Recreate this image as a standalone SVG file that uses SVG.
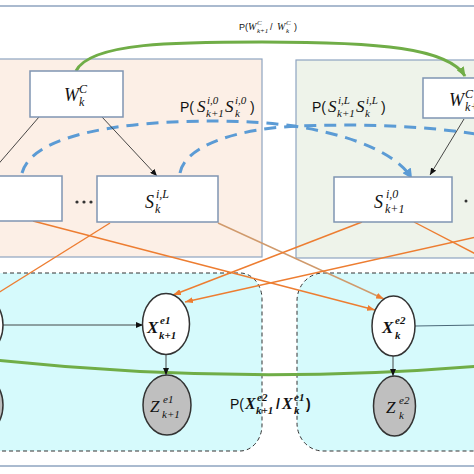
<svg xmlns="http://www.w3.org/2000/svg" width="474" height="474" viewBox="0 0 474 474">
<defs>
<style>
.panel{stroke:#8ea4c0;stroke-width:1.2}
.box{fill:#fff;stroke:#7f95b2;stroke-width:1.5}
.cyan{fill:#d6fafc;stroke:#333;stroke-width:1;stroke-dasharray:4,3}
.thin{fill:none;stroke:#333;stroke-width:0.9}
.org{fill:none;stroke:#ed7d31;stroke-width:1.4}
.grn{fill:none;stroke:#70ad47;stroke-width:3}
.blu{fill:none;stroke:#5b9bd5;stroke-width:3;stroke-dasharray:12,8}
.ell{fill:#fff;stroke:#333;stroke-width:1.5}
.ellg{fill:#bfbfbf;stroke:#333;stroke-width:1.5}
.m{font-family:"Liberation Serif",serif;font-style:italic;fill:#111}
.mb{font-family:"Liberation Serif",serif;font-style:italic;font-weight:bold;fill:#111}
.s{font-family:"Liberation Sans",sans-serif;fill:#111}
</style>
<marker id="ak" markerUnits="userSpaceOnUse" markerWidth="7" markerHeight="6" refX="7" refY="3" orient="auto"><path d="M0,0 L7,3 L0,6 z" fill="#111"/></marker>
<marker id="ao" markerUnits="userSpaceOnUse" markerWidth="8" markerHeight="6" refX="8" refY="3" orient="auto"><path d="M0,0 L8,3 L0,6 z" fill="#ed7d31"/></marker>
<marker id="ag" markerUnits="userSpaceOnUse" markerWidth="10" markerHeight="8" refX="9" refY="4" orient="auto"><path d="M0,0 L10,4 L0,8 z" fill="#70ad47"/></marker>
<marker id="ab" markerUnits="userSpaceOnUse" markerWidth="10" markerHeight="10" refX="8" refY="5" orient="auto"><path d="M0,0 L10,5 L0,10 z" fill="#5b9bd5"/></marker>
</defs>
<rect x="0" y="0" width="474" height="474" fill="#fff"/>
<g id="frame">
<rect x="-3" y="6" width="480" height="460" fill="#fff" stroke="#8ea4c0" stroke-width="1.5"/>
<rect class="panel" x="-20" y="59" width="282" height="198" fill="#fcefe6"/>
<rect class="panel" x="296" y="60" width="200" height="198" fill="#eef3ea"/>
<rect class="cyan" x="-40" y="273" width="302" height="178" rx="22" ry="26"/>
<rect class="cyan" x="297" y="273" width="220" height="178" rx="26" ry="28"/>
</g>
<g id="connectors">
<path class="grn" d="M76,71 C90,42 180,42 262,42 C380,42 448,48 465,76" marker-end="url(#ag)"/>
<path class="grn" d="M-5,360 Q237,386 479,366"/>
<path class="blu" d="M22,173 C35,125 170,118 250,122 C320,125 390,145 411,177" marker-end="url(#ab)"/>
<path class="blu" d="M180,173 C185,145 240,128 300,126 C380,123 450,127 520,142"/>
<line class="thin" x1="39" y1="117" x2="-5" y2="168"/>
<line class="thin" x1="102" y1="117" x2="157" y2="176" marker-end="url(#ak)"/>
<line class="thin" x1="464" y1="119" x2="430" y2="175" marker-end="url(#ak)"/>
<line class="thin" x1="3" y1="325" x2="143" y2="325" marker-end="url(#ak)"/>
<line class="thin" x1="166" y1="355" x2="166" y2="375" marker-end="url(#ak)"/>
<line class="thin" x1="393" y1="356" x2="393" y2="376" marker-end="url(#ak)"/>
<line x1="415" y1="326" x2="480" y2="325" stroke="#4a6878" stroke-width="1"/>
<line class="org" x1="33" y1="221" x2="375" y2="310" marker-end="url(#ao)"/>
<line class="org" x1="110" y1="223" x2="-10" y2="298"/>
<line x1="218" y1="223" x2="384" y2="299" stroke="#d09a6c" stroke-width="1.4" marker-end="url(#ao)"/>
<line class="org" x1="362" y1="222" x2="173" y2="295" marker-end="url(#ao)"/>
<line class="org" x1="414" y1="222" x2="520" y2="277"/>
<line class="org" x1="490" y1="234" x2="185" y2="302" marker-end="url(#ao)"/>
</g>
<g id="n-wkc">
<rect class="box" x="30" y="71" width="93" height="46"/>
<text class="m" x="64" y="101" font-size="18">W</text><text class="m" x="79" y="93" font-size="12">C</text><text class="m" x="79" y="106" font-size="12">k</text>
</g>
<g id="n-wk1c">
<rect class="box" x="423" y="78" width="95" height="40"/>
<text class="m" x="449" y="106" font-size="18">W</text><text class="m" x="465" y="98" font-size="12">C</text><text class="m" x="465" y="111" font-size="12">k+1</text>
</g>
<g id="n-sk0">
<rect class="box" x="-60" y="176" width="122" height="45"/>
</g>
<g id="dots1"><circle cx="77" cy="202" r="1.6" fill="#333"/><circle cx="84" cy="202" r="1.6" fill="#333"/><circle cx="91" cy="202" r="1.6" fill="#333"/></g>
<g id="n-skL">
<rect class="box" x="97" y="176" width="121" height="46"/>
<text class="m" x="145" y="208" font-size="18">S</text><text class="m" x="156" y="198" font-size="12">i,L</text><text class="m" x="155" y="213" font-size="12">k</text>
</g>
<g id="n-sk10">
<rect class="box" x="334" y="177" width="118" height="45"/>
<text class="m" x="374" y="208" font-size="18">S</text><text class="m" x="386" y="198" font-size="12">i,0</text><text class="m" x="385" y="213" font-size="12">k+1</text>
</g>
<g id="dots2"><circle cx="466" cy="201" r="1.5" fill="#333"/></g>
<g id="n-left-x"><ellipse class="ell" cx="-21" cy="325" rx="24" ry="30"/></g>
<g id="n-left-z"><ellipse class="ellg" cx="-21" cy="405" rx="24" ry="30"/></g>
<g id="n-x1">
<ellipse class="ell" cx="166" cy="324" rx="23.5" ry="30.5"/>
<text class="mb" x="147" y="333" font-size="17">X</text><text class="mb" x="160" y="324" font-size="11">e1</text><text class="mb" x="159" y="339" font-size="11">k+1</text>
</g>
<g id="n-z1">
<ellipse class="ellg" cx="167" cy="405" rx="24" ry="30"/>
<text class="m" x="150" y="412" font-size="17">Z</text><text class="m" x="163" y="403" font-size="11">e1</text><text class="m" x="162" y="418" font-size="11">k+1</text>
</g>
<g id="n-x2">
<ellipse class="ell" cx="393.5" cy="326" rx="21.5" ry="30"/>
<text class="mb" x="382" y="333" font-size="17">X</text><text class="mb" x="395" y="324" font-size="11">e2</text><text class="mb" x="395" y="339" font-size="11">k</text>
</g>
<g id="n-z2">
<ellipse class="ellg" cx="394.5" cy="406" rx="21" ry="30"/>
<text class="m" x="386" y="413" font-size="17">Z</text><text class="m" x="399" y="404" font-size="11">e2</text><text class="m" x="399" y="419" font-size="11">k</text>
</g>
<g id="labels">
<text class="s" x="239" y="30" font-size="9">P(</text><text class="m" x="248" y="30" font-size="10">W</text><text class="m" x="257" y="25" font-size="7">C</text><text class="m" x="257" y="33" font-size="7">k+1</text><text class="s" x="270" y="30" font-size="9">/</text><text class="m" x="277" y="30" font-size="10">W</text><text class="m" x="286" y="25" font-size="7">C</text><text class="m" x="286" y="33" font-size="7">k</text><text class="s" x="294" y="30" font-size="9">)</text>
<text class="s" x="180" y="112" font-size="14">P(</text><text class="m" x="197" y="112" font-size="17">S</text><text class="m" x="207" y="104" font-size="11">i,0</text><text class="m" x="206" y="117" font-size="11">k+1</text><text class="m" x="225" y="112" font-size="17">S</text><text class="m" x="235" y="104" font-size="11">i,0</text><text class="m" x="235" y="117" font-size="11">k</text><text class="s" x="250" y="112" font-size="14">)</text>
<text class="s" x="312" y="112" font-size="14">P(</text><text class="m" x="328" y="112" font-size="17">S</text><text class="m" x="338" y="104" font-size="11">i,L</text><text class="m" x="337" y="117" font-size="11">k+1</text><text class="m" x="356" y="112" font-size="17">S</text><text class="m" x="366" y="104" font-size="11">i,L</text><text class="m" x="365" y="117" font-size="11">k</text><text class="s" x="381" y="112" font-size="14">)</text>
<text class="s" x="230" y="409" font-size="14">P(</text><text class="mb" x="245" y="409" font-size="16">X</text><text class="mb" x="257" y="401" font-size="11">e2</text><text class="mb" x="256" y="414" font-size="11">k+1</text><text class="s" x="276" y="409" font-size="14" font-weight="bold">/</text><text class="mb" x="282" y="409" font-size="16">X</text><text class="mb" x="294" y="401" font-size="11">e1</text><text class="mb" x="294" y="414" font-size="11">k</text><text class="s" x="306" y="409" font-size="14" font-weight="bold">)</text>
</g>
</svg>
